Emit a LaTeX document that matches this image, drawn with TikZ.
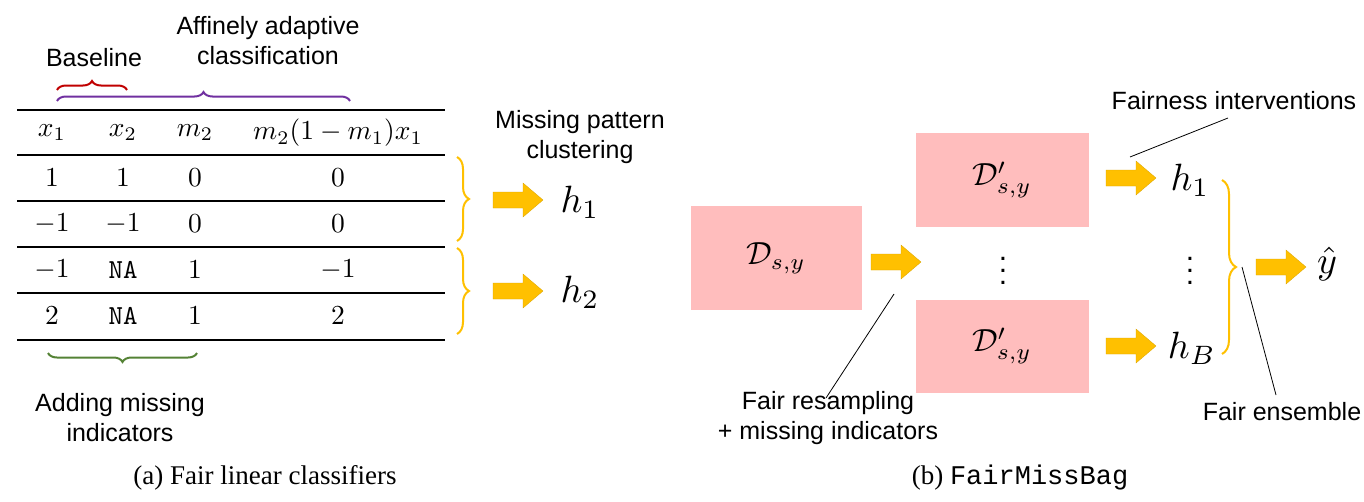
\documentclass[tikz,border=0pt]{standalone}
\usepackage{graphicx}
\usepackage{fontspec}
\setmainfont{Liberation Sans}
\newfontfamily\capfont{Liberation Serif}
\newfontfamily\capmono{Liberation Mono}
\usetikzlibrary{decorations.pathreplacing}
\definecolor{yel}{HTML}{FFC000}
\definecolor{pinkb}{HTML}{FFBDBD}
\definecolor{bred}{HTML}{C00000}
\definecolor{bpur}{HTML}{7030A0}
\definecolor{bgrn}{HTML}{548235}
\newcommand{\blkarrow}[2]{\fill[yel,draw=yel!85!black,line width=0.3pt] (#1-25,#2-8) -- (#1+5,#2-8) -- (#1+5,#2-17) -- (#1+25,#2) -- (#1+5,#2+17) -- (#1+5,#2+8) -- (#1-25,#2+8) -- cycle;}
\newcommand{\tm}[1]{\scalebox{2.75}{$#1$}}
\newcommand{\bm}[1]{\scalebox{3.8}{$#1$}}
\newcommand{\dm}[1]{\scalebox{3.2}{$#1$}}
\begin{document}
\begin{tikzpicture}[x=1pt,y=-1pt,
  lbl/.style={font=\fontsize{25}{30}\selectfont,align=center,inner sep=0},
  tab/.style={inner sep=0},
  big/.style={inner sep=0},
  captxt/.style={font=\fontsize{27}{30}\capfont,inner sep=0},
  rule/.style={line width=1.2pt},
  br/.style={decorate,decoration={brace,amplitude=9pt},line width=2pt},
  pbox/.style={fill=pinkb,draw=none,inner sep=0},
  ann/.style={line width=0.8pt}]
\useasboundingbox (0,0) rectangle (1364,501);
% ---- (a) table
\draw[rule] (17,110) -- (445,110);
\foreach \y in {155,201,247,293} \draw[rule] (17,\y) -- (445,\y);
\draw[line width=2pt] (17,340) -- (445,340);
\node[tab] (c1) at (52,133) {\tm{x_1}};
\node[tab] (c2) at (123,133) {\tm{x_2}};
\node[tab] (c3) at (195,133) {\tm{m_2}};
\node[tab] (c4) at (338,133) {\tm{m_2(1-m_1)x_1}};
\node[tab] at (52,178) {\tm{1}};\node[tab] at (123,178) {\tm{1}};\node[tab] at (195,178) {\tm{0}};\node[tab] at (338,178) {\tm{0}};
\node[tab] at (52,224) {\tm{-1}};\node[tab] at (123,224) {\tm{-1}};\node[tab] at (195,224) {\tm{0}};\node[tab] at (338,224) {\tm{0}};
\node[tab] at (52,270) {\tm{-1}};\node[tab] at (123,270) {\tm{\mathtt{NA}}};\node[tab] at (195,270) {\tm{1}};\node[tab] at (338,270) {\tm{-1}};
\node[tab] at (52,316) {\tm{2}};\node[tab] at (123,316) {\tm{\mathtt{NA}}};\node[tab] at (195,316) {\tm{1}};\node[tab] at (338,316) {\tm{2}};
% braces
\draw[br,bred] (57,90) -- (127,90);
\draw[br,bpur] (57,101) -- (350,101);
\draw[br,bgrn] (197,353) -- (48,353);
\node[lbl] (bl) at (94,58) {Baseline};
\node[lbl] (aff) at (268,41) {Affinely adaptive\\classification};
\node[lbl] (add) at (120,418) {Adding missing\\indicators};
\node[lbl] (mpc) at (580,137) {Missing pattern\\clustering};
\draw[br,yel,decoration={amplitude=12pt}] (457,157) -- (457,241);
\draw[br,yel,decoration={amplitude=12pt}] (457,248) -- (457,334);
\blkarrow{518}{200}
\blkarrow{518}{291}
\node[big] (h1) at (580,202) {\bm{h_1}};
\node[big] (h2) at (580,292) {\bm{h_2}};
\node[captxt] (capa) at (265,478) {(a) Fair linear classifiers};
% ---- (b)
\node[pbox,minimum width=171pt,minimum height=104pt] (D) at (776,258) {\dm{\mathcal{D}_{s,y}}};
\node[pbox,minimum width=173pt,minimum height=94pt] (D1) at (1002,180) {\dm{\mathcal{D}'_{s,y}}};
\node[pbox,minimum width=173pt,minimum height=93pt] (D2) at (1002,346) {\dm{\mathcal{D}'_{s,y}}};
\blkarrow{896}{262}
\node[big] (v1) at (1003,262) {\scalebox{3}{$\vdots$}};
\node[big] (v2) at (1190,262) {\scalebox{3}{$\vdots$}};
\blkarrow{1131}{178}
\blkarrow{1131}{346}
\node[big] (hb1) at (1190,180) {\bm{h_1}};
\node[big] (hb2) at (1192,348) {\bm{h_B}};
\draw[br,yel,decoration={amplitude=14pt}] (1222,180) -- (1222,354);
\coordinate (tip) at (1242,267);
\blkarrow{1281}{267}
\node[big] (yh) at (1327,264) {\bm{\hat{y}}};
\node[lbl] (fi) at (1234,101) {Fairness interventions};
\coordinate (fiend) at (1130,157);
\draw[ann] (1228,118) -- (fiend);
\node[lbl] (fr) at (828,418) {Fair resampling\\+ missing indicators};
\coordinate (frend) at (894,294);
\draw[ann] (826,398) -- (frend);
\node[lbl] (fe) at (1282,412) {Fair ensemble};
\draw[ann] (tip) -- (1276,395);
\node[captxt] (capb) at (1020,478) {(b) {\capmono FairMissBag}};
\end{tikzpicture}
\end{document}
